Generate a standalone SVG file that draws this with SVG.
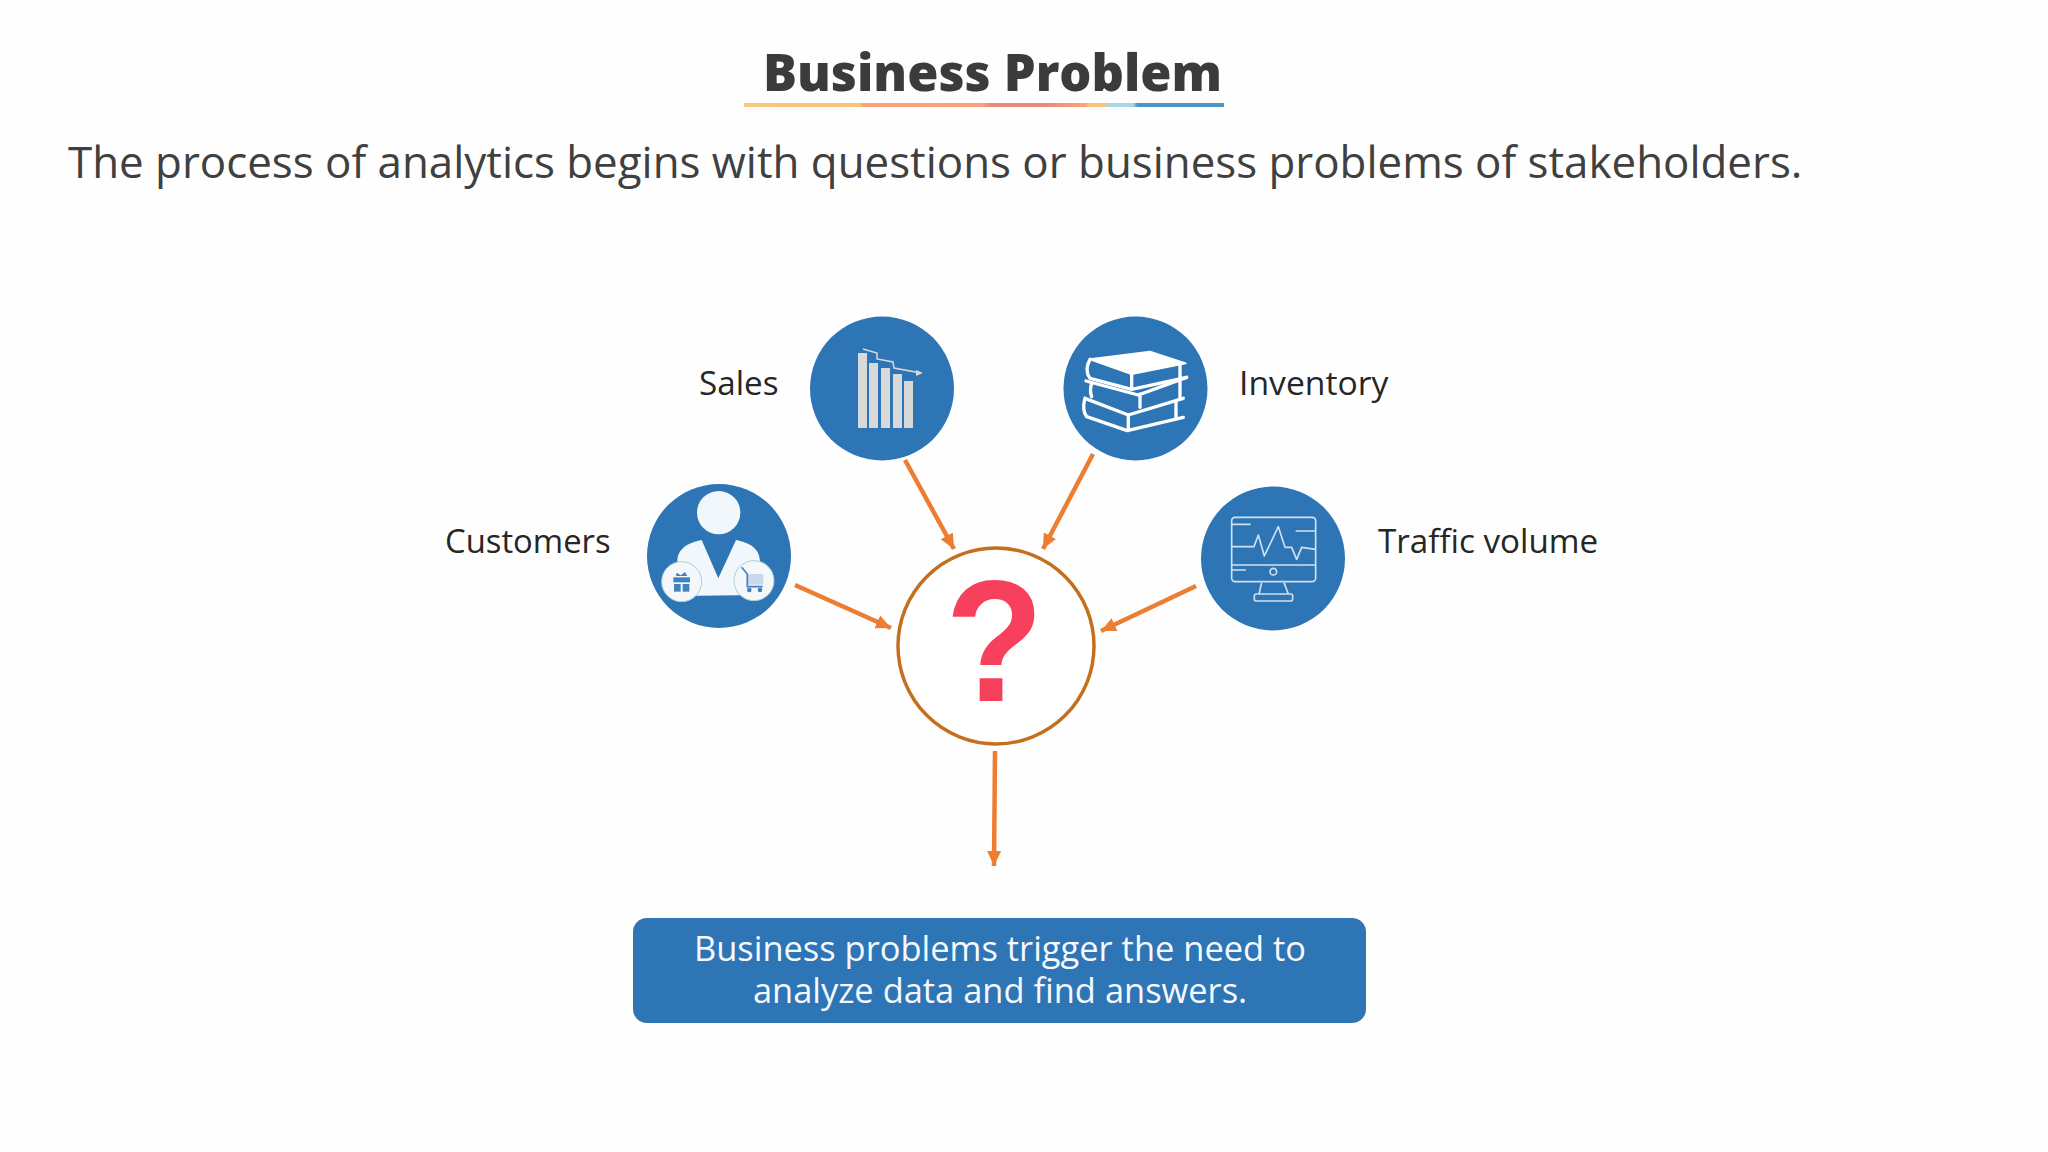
<svg xmlns="http://www.w3.org/2000/svg" width="2048" height="1152" viewBox="0 0 2048 1152">
<style>
.f{font-family:"Open Sans","Noto Sans",sans-serif}
.lbl{font-size:33.2px;fill:#262626}
.disc{fill:#2e75b6}
.arr{stroke:#ed7d31;stroke-width:4.5;fill:none;marker-end:url(#ah)}
.bk{fill:none;stroke:#fff;stroke-width:10;stroke-linejoin:round;stroke-linecap:round}
.mon{fill:none;stroke:#cfe0f0;stroke-width:5;stroke-linejoin:round}
</style>
<defs>
<marker id="ah" markerUnits="userSpaceOnUse" markerWidth="16" markerHeight="14" refX="15" refY="7" orient="auto"><path d="M0 0L15 7L0 14Z" fill="#ed7d31"/></marker>
<linearGradient id="ul" x1="0" x2="1" y1="0" y2="0">
<stop offset="0" stop-color="#f9c77e"/><stop offset=".24" stop-color="#f9c57a"/><stop offset=".25" stop-color="#f5a47e"/><stop offset=".5" stop-color="#f5a07c"/><stop offset=".51" stop-color="#ec8a78"/><stop offset=".63" stop-color="#ec8a78"/><stop offset=".71" stop-color="#f5a47e"/><stop offset=".72" stop-color="#f9c57a"/><stop offset=".75" stop-color="#f9c57a"/><stop offset=".76" stop-color="#a6d8e8"/><stop offset=".81" stop-color="#a6d8e8"/><stop offset=".82" stop-color="#4a94c6"/><stop offset="1" stop-color="#4a94c6"/>
</linearGradient>
</defs>
<rect width="2048" height="1152" fill="#fefefe"/>
<g id="header">
<text class="f" x="992.500" y="91" text-anchor="middle" font-size="50.500" font-weight="800" fill="#3b3b3b">Business Problem</text>
<rect x="744" y="103" width="480" height="4" fill="url(#ul)"/>
<text class="f" x="68" y="178" font-size="43.870" fill="#404040">The process of analytics begins with questions or business problems of stakeholders.</text>
</g>
<g id="connectors">
<line class="arr" x1="905" y1="460" x2="954" y2="549"/>
<line class="arr" x1="1093" y1="454" x2="1043" y2="549"/>
<line class="arr" x1="795" y1="585" x2="891" y2="628"/>
<line class="arr" x1="1196" y1="586" x2="1101" y2="631"/>
<line class="arr" x1="995" y1="751" x2="994" y2="866"/>
</g>
<g id="sales">
<circle class="disc" cx="882" cy="388.500" r="72"/>
<g fill="#d9d9d9"><rect x="858" y="353" width="9" height="75"/><rect x="869" y="363" width="9" height="65"/><rect x="881" y="368" width="9" height="60"/><rect x="893" y="374" width="9" height="54"/><rect x="904" y="381" width="9" height="47"/></g>
<path d="M863 349L877 353L877 359L893 362L894 368L921 373" fill="none" stroke="#d9d9d9" stroke-width="1.5"/><path d="M923 373L916 370V376Z" fill="#d9d9d9"/>
<text class="f lbl" x="699" y="395">Sales</text>
</g>
<g id="inventory">
<circle class="disc" cx="1135.500" cy="388.500" r="72"/>
<g transform="translate(1040 300) scale(.3333)">
<path d="M150 178L330 155L437 190L275 222Z" fill="#fff" stroke="#fff" stroke-width="6" stroke-linejoin="round"/>
<path class="bk" d="M150 178Q132 210 150 235L275 268L440 232M275 222V268M420 195V232"/>
<path class="bk" d="M138 243L295 285L440 232M155 250Q148 270 155 290M300 282V322M420 238V295"/>
<path class="bk" d="M135 295L265 345L430 295M135 295Q125 330 140 350L262 392L430 352M265 345V392M408 305V352"/>
</g>
<text class="f lbl" x="1239" y="395" font-size="33.700" style="font-size:33.700px">Inventory</text>
</g>
<g id="customers">
<circle class="disc" cx="719" cy="556" r="72"/>
<g transform="translate(630 470) scale(.3333)">
<circle cx="266" cy="128" r="65" fill="#f1f7fb"/>
<path d="M142 275C142 235 175 218 215 210L265 325L318 210C358 218 390 235 390 275V375L145 378Z" fill="#f1f7fb"/>
<circle cx="155" cy="335" r="60" fill="#f4f8fb" stroke="#a9cfd8" stroke-width="3"/>
<circle cx="372" cy="332" r="60" fill="#f4f8fb" stroke="#a9cfd8" stroke-width="3"/>
<g fill="#3f82bd"><rect x="130" y="322" width="50" height="15"/><rect x="132" y="342" width="20" height="23"/><rect x="158" y="342" width="20" height="23"/><path d="M138 318L140 308L152 316L165 306L172 318Z"/></g>
<rect x="352" y="312" width="48" height="32" fill="#c9dbea"/>
<path d="M335 292L352 312V350H398" fill="none" stroke="#3f82bd" stroke-width="5"/>
<circle cx="358" cy="360" r="7" fill="#3f82bd"/><circle cx="390" cy="360" r="7" fill="#3f82bd"/>
</g>
<text class="f lbl" x="445" y="553" style="font-size:32.800px">Customers</text>
</g>
<g id="traffic">
<circle class="disc" cx="1273" cy="558.500" r="72"/>
<g transform="translate(1180 470) scale(.3333)">
<rect class="mon" x="155" y="142" width="252" height="193" rx="10"/>
<path class="mon" d="M155 285H407M155 230H222L235 195L253 258L295 170L315 232H335L350 268L365 232L407 238M155 163H212M347 183H407M155 300H198M245 338L237 372M312 338L325 372"/>
<circle class="mon" cx="280" cy="305" r="10"/>
<rect class="mon" x="223" y="372" width="115" height="21" rx="6"/>
</g>
<text class="f lbl" x="1378" y="553">Traffic volume</text>
</g>
<g id="question">
<circle cx="996" cy="646" r="98" fill="#fff" stroke="#c56f1e" stroke-width="3.500"/>
<text transform="translate(994.500 701) scale(.97 1.045)" text-anchor="middle" font-family="'Liberation Sans',Arial,sans-serif" font-weight="700" font-size="166" fill="#f7405c">?</text>
</g>
<g id="outcome">
<rect x="633" y="918" width="733" height="105" rx="14" fill="#2e75b6"/>
<text class="f" x="1000" y="961" text-anchor="middle" font-size="34.450" fill="#f5f9fd">Business problems trigger the need to</text>
<text class="f" x="1000" y="1003" text-anchor="middle" font-size="34.450" fill="#f5f9fd">analyze data and find answers.</text>
</g>
</svg>
